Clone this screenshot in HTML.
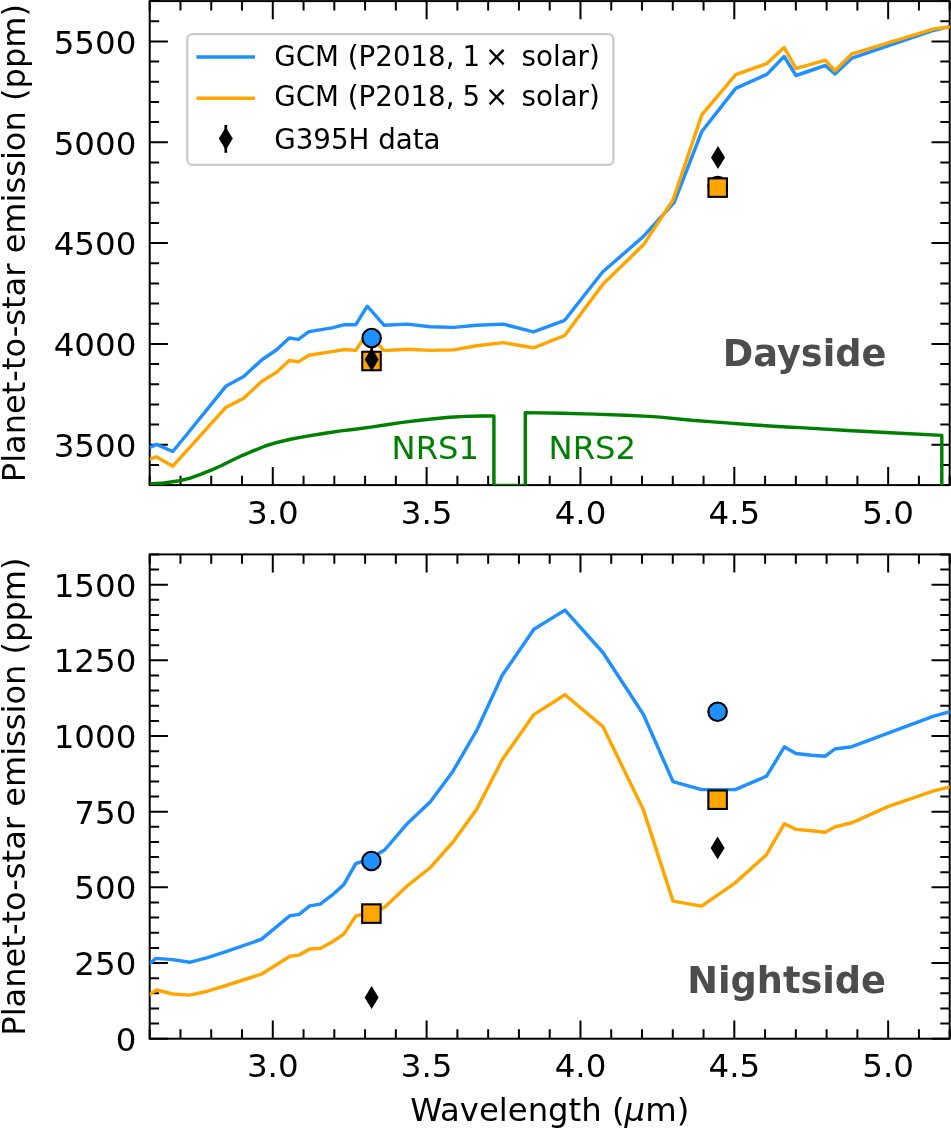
<!DOCTYPE html><html><head><meta charset="utf-8"><title>Planet-to-star emission</title><style>html,body{margin:0;padding:0;background:#fff;width:951px;height:1131px;overflow:hidden}svg{display:block}</style></head><body><svg width="951" height="1131" viewBox="0 0 951 1131" font-family="'DejaVu Sans', 'Liberation Sans', sans-serif"><rect width="951" height="1131" fill="#fff"/><defs><clipPath id="ct"><rect x="149.7" y="1.1" width="800.0" height="484.0"/></clipPath><clipPath id="cb"><rect x="149.7" y="554.4" width="800.0" height="484.30000000000007"/></clipPath></defs>
<path d="M149.70,485.1v-9.4M149.70,1.1v9.4M180.47,485.1v-9.4M180.47,1.1v9.4M211.24,485.1v-9.4M211.24,1.1v9.4M242.01,485.1v-9.4M242.01,1.1v9.4M272.78,485.1v-18.2M272.78,1.1v18.2M303.55,485.1v-9.4M303.55,1.1v9.4M334.32,485.1v-9.4M334.32,1.1v9.4M365.08,485.1v-9.4M365.08,1.1v9.4M395.85,485.1v-9.4M395.85,1.1v9.4M426.62,485.1v-18.2M426.62,1.1v18.2M457.39,485.1v-9.4M457.39,1.1v9.4M488.16,485.1v-9.4M488.16,1.1v9.4M518.93,485.1v-9.4M518.93,1.1v9.4M549.70,485.1v-9.4M549.70,1.1v9.4M580.47,485.1v-18.2M580.47,1.1v18.2M611.24,485.1v-9.4M611.24,1.1v9.4M642.01,485.1v-9.4M642.01,1.1v9.4M672.78,485.1v-9.4M672.78,1.1v9.4M703.55,485.1v-9.4M703.55,1.1v9.4M734.32,485.1v-18.2M734.32,1.1v18.2M765.08,485.1v-9.4M765.08,1.1v9.4M795.85,485.1v-9.4M795.85,1.1v9.4M826.62,485.1v-9.4M826.62,1.1v9.4M857.39,485.1v-9.4M857.39,1.1v9.4M888.16,485.1v-18.2M888.16,1.1v18.2M918.93,485.1v-9.4M918.93,1.1v9.4M949.70,485.1v-9.4M949.70,1.1v9.4M149.7,485.10h9.4M949.7,485.10h-9.4M149.7,464.93h9.4M949.7,464.93h-9.4M149.7,444.77h18.2M949.7,444.77h-18.2M149.7,424.60h9.4M949.7,424.60h-9.4M149.7,404.43h9.4M949.7,404.43h-9.4M149.7,384.27h9.4M949.7,384.27h-9.4M149.7,364.10h9.4M949.7,364.10h-9.4M149.7,343.93h18.2M949.7,343.93h-18.2M149.7,323.77h9.4M949.7,323.77h-9.4M149.7,303.60h9.4M949.7,303.60h-9.4M149.7,283.43h9.4M949.7,283.43h-9.4M149.7,263.27h9.4M949.7,263.27h-9.4M149.7,243.10h18.2M949.7,243.10h-18.2M149.7,222.93h9.4M949.7,222.93h-9.4M149.7,202.77h9.4M949.7,202.77h-9.4M149.7,182.60h9.4M949.7,182.60h-9.4M149.7,162.43h9.4M949.7,162.43h-9.4M149.7,142.27h18.2M949.7,142.27h-18.2M149.7,122.10h9.4M949.7,122.10h-9.4M149.7,101.93h9.4M949.7,101.93h-9.4M149.7,81.77h9.4M949.7,81.77h-9.4M149.7,61.60h9.4M949.7,61.60h-9.4M149.7,41.43h18.2M949.7,41.43h-18.2M149.7,21.27h9.4M949.7,21.27h-9.4M149.7,1.10h9.4M949.7,1.10h-9.4" stroke="#000" stroke-width="2" fill="none"/>
<rect x="149.7" y="1.1" width="800.0" height="484.0" fill="none" stroke="#000" stroke-width="2" stroke-linejoin="miter"/>
<polyline points="140.0,484.6 150.1,483.9 163.8,483.0 179.5,480.7 190.1,478.1 200.6,474.4 211.1,470.2 221.6,465.5 232.1,460.2 242.6,455.3 252.6,451.1 265.2,446.0 277.9,442.2 290.5,439.3 303.1,436.9 315.7,434.7 328.3,432.8 340.9,430.9 355.0,429.2 370.8,427.1 386.5,424.7 402.3,422.4 418.1,420.5 433.9,418.7 449.6,417.3 465.4,416.4 481.2,416.0 493.9,416.0 493.9,485.5 525.3,485.5 525.3,412.6 562.3,413.2 593.9,414.1 625.4,415.3 649.1,416.4 660.0,417.1 691.5,420.3 723.1,422.6 754.6,425.0 786.2,427.0 800.0,427.6 847.6,430.5 895.3,433.0 941.8,435.4 941.8,490.0" fill="none" stroke="#008000" stroke-width="3.45" stroke-linejoin="round" stroke-linecap="butt" clip-path="url(#ct)"/>
<polyline points="140.0,452.0 149.0,448.0 156.4,444.4 172.8,451.5 188.0,433.0 225.8,386.3 243.7,376.6 261.6,360.0 276.3,350.0 289.3,338.0 298.4,339.4 308.9,331.6 332.0,327.9 344.6,324.7 355.8,324.7 367.3,306.2 384.2,325.3 407.3,324.1 430.4,326.8 453.6,327.4 476.7,325.3 503.0,324.1 533.5,331.8 564.7,320.3 602.6,272.0 642.5,237.3 674.1,202.6 701.8,131.5 735.7,88.4 766.9,74.4 784.1,56.5 796.0,75.5 825.2,65.5 835.0,73.9 852.0,58.1 934.0,30.2 950.0,26.6 960.0,25.0" fill="none" stroke="#1E90FF" stroke-width="3.45" stroke-linejoin="round" stroke-linecap="butt" clip-path="url(#ct)"/>
<polyline points="140.0,462.5 149.0,459.5 156.4,456.8 172.8,466.2 225.8,407.4 243.7,398.3 261.6,381.5 276.3,372.4 289.3,360.5 298.4,361.9 308.9,355.2 332.0,351.6 344.6,349.5 355.8,350.4 367.3,333.0 384.2,350.6 407.3,349.3 430.4,350.4 453.6,349.9 476.7,345.7 503.0,342.6 533.5,347.8 564.7,335.5 602.6,284.6 643.6,244.6 673.0,200.0 701.8,114.9 735.7,74.7 766.9,63.6 784.1,47.5 796.0,68.4 811.0,64.4 825.2,60.2 835.0,70.7 852.0,53.8 934.0,28.9 950.0,27.0 960.0,25.5" fill="none" stroke="#FFA500" stroke-width="3.45" stroke-linejoin="round" stroke-linecap="butt" clip-path="url(#ct)"/>
<circle cx="371.65" cy="338.0" r="9.25" fill="#1E90FF" stroke="#000" stroke-width="2.1"/>
<rect x="362.25" y="351.75" width="18.50" height="18.50" fill="#FFA500" stroke="#000" stroke-width="2.1"/>
<line x1="371.7" y1="346" x2="371.7" y2="370.5" stroke="#000" stroke-width="2.7"/><polygon points="371.7,348.1 378.7,359.5 371.7,370.9 364.7,359.5" fill="#000"/>
<circle cx="717.7" cy="186.0" r="9.25" fill="#1E90FF" stroke="#000" stroke-width="2.1"/>
<rect x="708.45" y="178.35" width="18.50" height="18.50" fill="#FFA500" stroke="#000" stroke-width="2.1"/>
<polygon points="718.0,146.1 725.0,157.5 718.0,168.9 711.0,157.5" fill="#000"/>
<path d="M149.70,1038.7v-9.4M149.70,554.4v9.4M180.47,1038.7v-9.4M180.47,554.4v9.4M211.24,1038.7v-9.4M211.24,554.4v9.4M242.01,1038.7v-9.4M242.01,554.4v9.4M272.78,1038.7v-18.2M272.78,554.4v18.2M303.55,1038.7v-9.4M303.55,554.4v9.4M334.32,1038.7v-9.4M334.32,554.4v9.4M365.08,1038.7v-9.4M365.08,554.4v9.4M395.85,1038.7v-9.4M395.85,554.4v9.4M426.62,1038.7v-18.2M426.62,554.4v18.2M457.39,1038.7v-9.4M457.39,554.4v9.4M488.16,1038.7v-9.4M488.16,554.4v9.4M518.93,1038.7v-9.4M518.93,554.4v9.4M549.70,1038.7v-9.4M549.70,554.4v9.4M580.47,1038.7v-18.2M580.47,554.4v18.2M611.24,1038.7v-9.4M611.24,554.4v9.4M642.01,1038.7v-9.4M642.01,554.4v9.4M672.78,1038.7v-9.4M672.78,554.4v9.4M703.55,1038.7v-9.4M703.55,554.4v9.4M734.32,1038.7v-18.2M734.32,554.4v18.2M765.08,1038.7v-9.4M765.08,554.4v9.4M795.85,1038.7v-9.4M795.85,554.4v9.4M826.62,1038.7v-9.4M826.62,554.4v9.4M857.39,1038.7v-9.4M857.39,554.4v9.4M888.16,1038.7v-18.2M888.16,554.4v18.2M918.93,1038.7v-9.4M918.93,554.4v9.4M949.70,1038.7v-9.4M949.70,554.4v9.4M149.7,1038.70h18.2M949.7,1038.70h-18.2M149.7,1023.57h9.4M949.7,1023.57h-9.4M149.7,1008.43h9.4M949.7,1008.43h-9.4M149.7,993.30h9.4M949.7,993.30h-9.4M149.7,978.16h9.4M949.7,978.16h-9.4M149.7,963.03h18.2M949.7,963.03h-18.2M149.7,947.89h9.4M949.7,947.89h-9.4M149.7,932.76h9.4M949.7,932.76h-9.4M149.7,917.62h9.4M949.7,917.62h-9.4M149.7,902.49h9.4M949.7,902.49h-9.4M149.7,887.36h18.2M949.7,887.36h-18.2M149.7,872.22h9.4M949.7,872.22h-9.4M149.7,857.09h9.4M949.7,857.09h-9.4M149.7,841.95h9.4M949.7,841.95h-9.4M149.7,826.82h9.4M949.7,826.82h-9.4M149.7,811.68h18.2M949.7,811.68h-18.2M149.7,796.55h9.4M949.7,796.55h-9.4M149.7,781.42h9.4M949.7,781.42h-9.4M149.7,766.28h9.4M949.7,766.28h-9.4M149.7,751.15h9.4M949.7,751.15h-9.4M149.7,736.01h18.2M949.7,736.01h-18.2M149.7,720.88h9.4M949.7,720.88h-9.4M149.7,705.74h9.4M949.7,705.74h-9.4M149.7,690.61h9.4M949.7,690.61h-9.4M149.7,675.47h9.4M949.7,675.47h-9.4M149.7,660.34h18.2M949.7,660.34h-18.2M149.7,645.21h9.4M949.7,645.21h-9.4M149.7,630.07h9.4M949.7,630.07h-9.4M149.7,614.94h9.4M949.7,614.94h-9.4M149.7,599.80h9.4M949.7,599.80h-9.4M149.7,584.67h18.2M949.7,584.67h-18.2M149.7,569.53h9.4M949.7,569.53h-9.4M149.7,554.40h9.4M949.7,554.40h-9.4" stroke="#000" stroke-width="2" fill="none"/>
<rect x="149.7" y="554.4" width="800.0" height="484.30000000000007" fill="none" stroke="#000" stroke-width="2" stroke-linejoin="miter"/>
<polyline points="140.0,968.0 149.6,963.7 155.9,958.4 172.7,959.6 189.6,962.3 207.5,957.7 226.0,951.7 261.3,939.4 290.0,915.7 299.2,914.4 309.7,905.9 320.2,904.1 332.0,895.2 343.8,884.6 355.7,863.6 367.0,860.0 384.6,850.0 407.9,822.9 430.4,801.7 453.0,771.2 476.9,730.0 502.1,675.6 533.9,629.2 565.0,610.1 602.9,652.5 643.3,714.3 673.0,781.6 701.5,789.6 735.1,789.6 766.6,776.2 784.4,746.9 796.0,753.5 811.5,755.3 825.3,756.2 834.8,749.0 851.9,746.7 933.7,716.1 950.0,711.6 960.0,709.0" fill="none" stroke="#1E90FF" stroke-width="3.45" stroke-linejoin="round" stroke-linecap="butt" clip-path="url(#cb)"/>
<polyline points="140.0,999.0 149.6,994.4 156.5,990.0 172.7,994.0 189.6,995.1 207.5,991.2 226.0,985.5 261.3,974.2 290.0,956.2 299.2,955.1 309.7,949.0 320.2,948.5 332.0,942.0 343.8,934.1 355.7,916.2 367.0,913.0 384.6,907.3 407.9,885.3 430.4,867.5 453.0,842.0 476.9,808.9 502.5,759.2 533.9,714.6 565.0,694.7 602.9,726.6 643.3,809.6 673.0,901.1 701.5,906.1 734.9,883.1 766.3,854.9 784.4,823.7 796.0,829.4 811.5,830.8 825.3,832.3 834.8,826.9 851.9,822.7 887.9,806.6 933.7,790.9 950.0,786.8 960.0,784.0" fill="none" stroke="#FFA500" stroke-width="3.45" stroke-linejoin="round" stroke-linecap="butt" clip-path="url(#cb)"/>
<circle cx="371.4" cy="861.0" r="9.25" fill="#1E90FF" stroke="#000" stroke-width="2.1"/>
<rect x="362.15" y="904.35" width="18.50" height="18.50" fill="#FFA500" stroke="#000" stroke-width="2.1"/>
<polygon points="371.65,986.1 378.65,997.5 371.65,1008.9 364.65,997.5" fill="#000"/>
<circle cx="717.6" cy="711.8" r="9.25" fill="#1E90FF" stroke="#000" stroke-width="2.1"/>
<rect x="708.35" y="790.45" width="18.50" height="18.50" fill="#FFA500" stroke="#000" stroke-width="2.1"/>
<polygon points="717.6,836.5 724.6,847.9 717.6,859.3 710.6,847.9" fill="#000"/>
<g fill="#000"><text x="272.78" y="523.60" font-size="32.5" text-anchor="middle">3.0</text><text x="272.78" y="1076.70" font-size="32.5" text-anchor="middle">3.0</text><text x="426.62" y="523.60" font-size="32.5" text-anchor="middle">3.5</text><text x="426.62" y="1076.70" font-size="32.5" text-anchor="middle">3.5</text><text x="580.47" y="523.60" font-size="32.5" text-anchor="middle">4.0</text><text x="580.47" y="1076.70" font-size="32.5" text-anchor="middle">4.0</text><text x="734.32" y="523.60" font-size="32.5" text-anchor="middle">4.5</text><text x="734.32" y="1076.70" font-size="32.5" text-anchor="middle">4.5</text><text x="888.16" y="523.60" font-size="32.5" text-anchor="middle">5.0</text><text x="888.16" y="1076.70" font-size="32.5" text-anchor="middle">5.0</text><text x="136.35" y="457.07" font-size="32.5" text-anchor="end">3500</text><text x="136.35" y="356.23" font-size="32.5" text-anchor="end">4000</text><text x="136.35" y="255.40" font-size="32.5" text-anchor="end">4500</text><text x="136.35" y="154.57" font-size="32.5" text-anchor="end">5000</text><text x="136.35" y="53.73" font-size="32.5" text-anchor="end">5500</text><text x="136.35" y="1050.80" font-size="32.5" text-anchor="end">0</text><text x="136.35" y="975.13" font-size="32.5" text-anchor="end">250</text><text x="136.35" y="899.46" font-size="32.5" text-anchor="end">500</text><text x="136.35" y="823.78" font-size="32.5" text-anchor="end">750</text><text x="136.35" y="748.11" font-size="32.5" text-anchor="end">1000</text><text x="136.35" y="672.44" font-size="32.5" text-anchor="end">1250</text><text x="136.35" y="596.77" font-size="32.5" text-anchor="end">1500</text></g>
<text transform="translate(25.0,243.10) rotate(-90)" font-size="32.1" text-anchor="middle">Planet-to-star emission (ppm)</text>
<text transform="translate(25.0,796.55) rotate(-90)" font-size="32.1" text-anchor="middle">Planet-to-star emission (ppm)</text>
<text x="549.70" y="1120.6" font-size="32.3" text-anchor="middle">Wavelength (<tspan font-style="italic">μ</tspan>m)</text>
<text x="886.4" y="366" font-size="36.7" font-weight="bold" fill="#4d4d4d" text-anchor="end">Dayside</text>
<text x="886.0" y="992.5" font-size="36.7" font-weight="bold" fill="#4d4d4d" text-anchor="end">Nightside</text>
<text x="391.6" y="459.3" font-size="32.2" fill="#008000">NRS1</text>
<text x="548.6" y="459.4" font-size="32.2" fill="#008000">NRS2</text>
<rect x="187.3" y="34.2" width="426.1" height="130.7" rx="5" ry="5" fill="#fff" fill-opacity="0.8" stroke="#cccccc" stroke-width="2.3"/><line x1="196.4" y1="57.0" x2="254.9" y2="57.0" stroke="#1E90FF" stroke-width="3.45"/><line x1="196.4" y1="98.3" x2="254.9" y2="98.3" stroke="#FFA500" stroke-width="3.45"/><line x1="225.8" y1="125" x2="225.8" y2="152.8" stroke="#000" stroke-width="2.7"/><polygon points="225.8,127.19999999999999 232.8,138.6 225.8,150.0 218.8,138.6" fill="#000"/><text x="274.3" y="65.8" font-size="27.7">GCM (P2018, <tspan x="462.4">1</tspan><tspan x="485">×</tspan><tspan x="521.6">solar)</tspan></text><text x="274.3" y="106.2" font-size="27.7">GCM (P2018, <tspan x="462.4">5</tspan><tspan x="485">×</tspan><tspan x="521.6">solar)</tspan></text><text x="274.3" y="148.9" font-size="27.7">G395H data</text></svg></body></html>
